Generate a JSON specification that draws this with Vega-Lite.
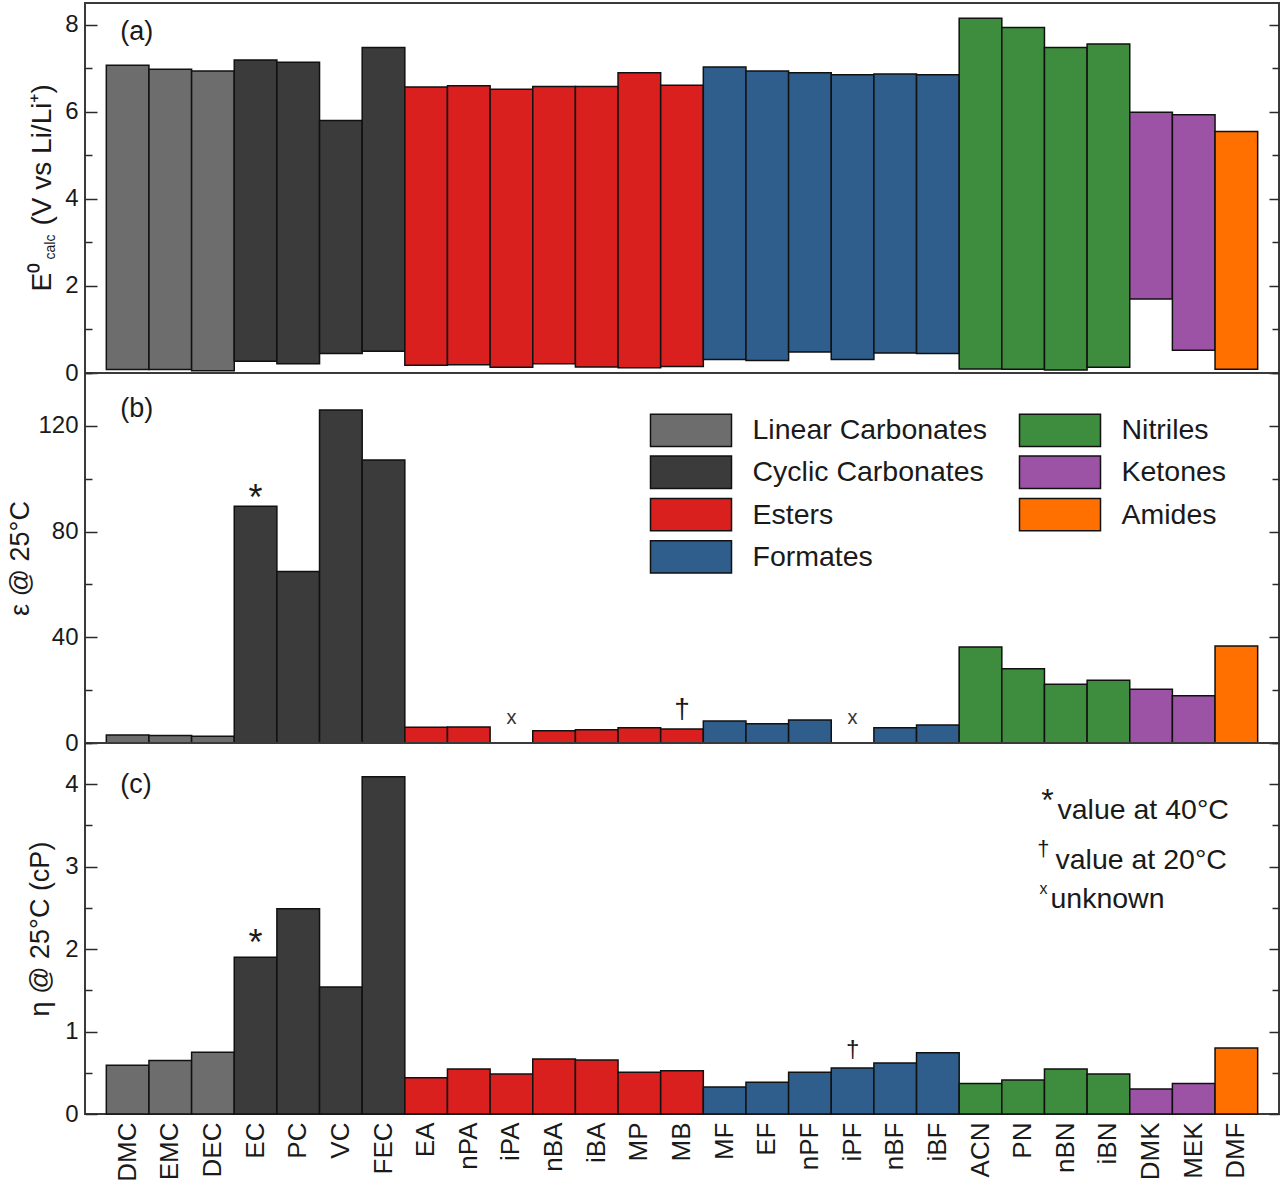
{
  "$schema": "https://vega.github.io/schema/vega-lite/v6.json",
  "background": "white",
  "padding": {"left": 5, "top": 2, "right": 0, "bottom": 0},
  "data": {
    "values": [
      {"name": "DMC", "group": "Linear Carbonates", "lo": 0.08, "hi": 7.07, "eps": 3.0, "eta": 0.59, "epsNote": null, "etaNote": null},
      {"name": "EMC", "group": "Linear Carbonates", "lo": 0.08, "hi": 6.98, "eps": 2.8, "eta": 0.65, "epsNote": null, "etaNote": null},
      {"name": "DEC", "group": "Linear Carbonates", "lo": 0.05, "hi": 6.94, "eps": 2.6, "eta": 0.75, "epsNote": null, "etaNote": null},
      {"name": "EC", "group": "Cyclic Carbonates", "lo": 0.27, "hi": 7.19, "eps": 89.6, "eta": 1.90, "epsNote": "*", "etaNote": "*"},
      {"name": "PC", "group": "Cyclic Carbonates", "lo": 0.21, "hi": 7.14, "eps": 64.9, "eta": 2.49, "epsNote": null, "etaNote": null},
      {"name": "VC", "group": "Cyclic Carbonates", "lo": 0.45, "hi": 5.80, "eps": 126.0, "eta": 1.54, "epsNote": null, "etaNote": null},
      {"name": "FEC", "group": "Cyclic Carbonates", "lo": 0.50, "hi": 7.48, "eps": 107.1, "eta": 4.09, "epsNote": null, "etaNote": null},
      {"name": "EA", "group": "Esters", "lo": 0.18, "hi": 6.57, "eps": 6.0, "eta": 0.44, "epsNote": null, "etaNote": null},
      {"name": "nPA", "group": "Esters", "lo": 0.19, "hi": 6.60, "eps": 6.1, "eta": 0.545, "epsNote": null, "etaNote": null},
      {"name": "iPA", "group": "Esters", "lo": 0.13, "hi": 6.52, "eps": null, "eta": 0.485, "epsNote": null, "etaNote": null},
      {"name": "nBA", "group": "Esters", "lo": 0.21, "hi": 6.58, "eps": 4.6, "eta": 0.667, "epsNote": null, "etaNote": null},
      {"name": "iBA", "group": "Esters", "lo": 0.14, "hi": 6.58, "eps": 5.0, "eta": 0.654, "epsNote": null, "etaNote": null},
      {"name": "MP", "group": "Esters", "lo": 0.12, "hi": 6.90, "eps": 5.8, "eta": 0.505, "epsNote": null, "etaNote": null},
      {"name": "MB", "group": "Esters", "lo": 0.15, "hi": 6.61, "eps": 5.3, "eta": 0.525, "epsNote": "†", "etaNote": null},
      {"name": "MF", "group": "Formates", "lo": 0.31, "hi": 7.03, "eps": 8.3, "eta": 0.327, "epsNote": null, "etaNote": null},
      {"name": "EF", "group": "Formates", "lo": 0.29, "hi": 6.94, "eps": 7.3, "eta": 0.384, "epsNote": null, "etaNote": null},
      {"name": "nPF", "group": "Formates", "lo": 0.48, "hi": 6.90, "eps": 8.7, "eta": 0.505, "epsNote": null, "etaNote": null},
      {"name": "iPF", "group": "Formates", "lo": 0.31, "hi": 6.85, "eps": null, "eta": 0.557, "epsNote": null, "etaNote": "†"},
      {"name": "nBF", "group": "Formates", "lo": 0.46, "hi": 6.87, "eps": 5.8, "eta": 0.618, "epsNote": null, "etaNote": null},
      {"name": "iBF", "group": "Formates", "lo": 0.45, "hi": 6.85, "eps": 6.8, "eta": 0.743, "epsNote": null, "etaNote": null},
      {"name": "ACN", "group": "Nitriles", "lo": 0.09, "hi": 8.15, "eps": 36.3, "eta": 0.371, "epsNote": null, "etaNote": null},
      {"name": "PN", "group": "Nitriles", "lo": 0.085, "hi": 7.94, "eps": 28.1, "eta": 0.412, "epsNote": null, "etaNote": null},
      {"name": "nBN", "group": "Nitriles", "lo": 0.07, "hi": 7.48, "eps": 22.2, "eta": 0.545, "epsNote": null, "etaNote": null},
      {"name": "iBN", "group": "Nitriles", "lo": 0.13, "hi": 7.56, "eps": 23.7, "eta": 0.485, "epsNote": null, "etaNote": null},
      {"name": "DMK", "group": "Ketones", "lo": 1.70, "hi": 5.99, "eps": 20.3, "eta": 0.303, "epsNote": null, "etaNote": null},
      {"name": "MEK", "group": "Ketones", "lo": 0.52, "hi": 5.93, "eps": 17.9, "eta": 0.371, "epsNote": null, "etaNote": null},
      {"name": "DMF", "group": "Amides", "lo": 0.085, "hi": 5.55, "eps": 36.7, "eta": 0.80, "epsNote": null, "etaNote": null}
    ]
  },
  "config": {
    "font": "Liberation Sans",
    "view": {"stroke": "#3a3a3a", "strokeWidth": 2},
    "axis": {
      "grid": false,
      "domain": false,
      "labelFontSize": 24,
      "labelColor": "#1a1a1a",
      "titleFontSize": 27,
      "titleFontWeight": "normal",
      "titleColor": "#1a1a1a",
      "tickColor": "#2a2a2a",
      "tickWidth": 1.5
    },
    "concat": {"spacing": 0},
    "text": {"color": "#1a1a1a"}
  },
  "bounds": "flush",
  "resolve": {
    "scale": {"x": "independent", "y": "independent", "color": "independent"},
    "legend": {"color": "independent"}
  },
  "vconcat": [
    {
      "width": 1194,
      "height": 370,
      "layer": [
        {
          "mark": {"type": "bar", "stroke": "#111111", "strokeWidth": 1.5},
          "encoding": {
            "x": {
              "field": "name", "type": "nominal",
              "scale": {"domain": ["DMC", "EMC", "DEC", "EC", "PC", "VC", "FEC", "EA", "nPA", "iPA", "nBA", "iBA", "MP", "MB", "MF", "EF", "nPF", "iPF", "nBF", "iBF", "ACN", "PN", "nBN", "iBN", "DMK", "MEK", "DMF"], "paddingInner": 0, "paddingOuter": 0.5},
              "axis": null
            },
            "y": {
              "field": "lo", "type": "quantitative",
              "scale": {"domain": [0, 8.5], "nice": false, "zero": false},
              "axis": {
                "values": [0, 1, 2, 3, 4, 5, 6, 7, 8],
                "labelExpr": "datum.value % 2 === 0 ? datum.label : ''",
                "tickSize": {"condition": {"test": "datum.value % 2 === 0", "value": -12}, "value": -7},
                "labelPadding": 19,
                "title": "E⁰",
                "titleFontSize": 28,
                "titleAngle": 270,
                "titleAlign": "left",
                "titleBaseline": "alphabetic",
                "titleX": -35,
                "titleY": 288
              }
            },
            "y2": {"field": "hi"},
            "color": {
              "field": "group", "type": "nominal",
              "scale": {
                "domain": ["Linear Carbonates", "Cyclic Carbonates", "Esters", "Formates", "Nitriles", "Ketones", "Amides"],
                "range": ["#6d6d6d", "#3b3b3b", "#da1f1f", "#2f5e8c", "#3e8c3d", "#9c52a5", "#ff7000"]
              },
              "legend": null
            }
          }
        },
        {
          "mark": {"type": "rule", "opacity": 0},
          "encoding": {
            "y": {
              "field": "hi", "type": "quantitative",
              "axis": {
                "orient": "right",
                "values": [0, 1, 2, 3, 4, 5, 6, 7, 8],
                "labels": false,
                "title": null,
                "tickSize": {"condition": {"test": "datum.value % 2 === 0", "value": -10}, "value": -7}
              }
            }
          }
        },
        {
          "mark": {"type": "rule", "opacity": 0},
          "encoding": {
            "y": {
              "field": "hi", "type": "quantitative",
              "axis": {
                "orient": "left",
                "labels": false,
                "ticks": false,
                "title": "calc",
                "titleFontSize": 14,
                "titleAngle": 270,
                "titleAlign": "left",
                "titleBaseline": "alphabetic",
                "titleX": -31,
                "titleY": 256
              }
            }
          }
        },
        {
          "mark": {"type": "rule", "opacity": 0},
          "encoding": {
            "y": {
              "field": "hi", "type": "quantitative",
              "axis": {
                "orient": "left",
                "labels": false,
                "ticks": false,
                "title": "(V vs Li/Li⁺)",
                "titleFontSize": 28,
                "titleAngle": 270,
                "titleAlign": "left",
                "titleBaseline": "alphabetic",
                "titleX": -35,
                "titleY": 222
              }
            }
          }
        },
        {
          "data": {"values": [{"label": "(a)"}]},
          "mark": {"type": "text", "align": "left", "baseline": "top", "fontSize": 27, "dx": 14, "dy": 16},
          "encoding": {
            "x": {"datum": "DMC", "bandPosition": 0},
            "y": {"datum": 8.5, "axis": null},
            "text": {"field": "label"}
          }
        }
      ],
      "resolve": {"axis": {"y": "independent"}}
    },
    {
      "width": 1194,
      "height": 370,
      "layer": [
        {
          "mark": {"type": "bar", "stroke": "#111111", "strokeWidth": 1.5},
          "encoding": {
            "x": {
              "field": "name", "type": "nominal",
              "scale": {"domain": ["DMC", "EMC", "DEC", "EC", "PC", "VC", "FEC", "EA", "nPA", "iPA", "nBA", "iBA", "MP", "MB", "MF", "EF", "nPF", "iPF", "nBF", "iBF", "ACN", "PN", "nBN", "iBN", "DMK", "MEK", "DMF"], "paddingInner": 0, "paddingOuter": 0.5},
              "axis": null
            },
            "y": {
              "field": "eps", "type": "quantitative",
              "scale": {"domain": [0, 140], "nice": false},
              "axis": {
                "values": [0, 20, 40, 60, 80, 100, 120, 140],
                "labelExpr": "datum.value % 40 === 0 ? datum.label : ''",
                "tickSize": {"condition": {"test": "datum.value % 40 === 0", "value": -12}, "value": -7},
                "labelPadding": 19,
                "title": "ε @ 25°C",
                "titlePadding": 3
              }
            },
            "color": {
              "field": "group", "type": "nominal",
              "scale": {
                "domain": ["Linear Carbonates", "Cyclic Carbonates", "Esters", "Formates", "Nitriles", "Ketones", "Amides"],
                "range": ["#6d6d6d", "#3b3b3b", "#da1f1f", "#2f5e8c", "#3e8c3d", "#9c52a5", "#ff7000"]
              },
              "legend": {
                "orient": "none",
                "legendX": 589,
                "legendY": 40,
                "title": null,
                "columns": 2,
                "columnPadding": 29,
                "rowPadding": 2.3,
                "symbolType": "M-2.5,-1H2.5V1H-2.5Z",
                "symbolSize": 1050,
                "symbolStrokeColor": "#111111",
                "symbolStrokeWidth": 1.5,
                "symbolOpacity": 1,
                "labelFontSize": 28.5,
                "labelColor": "#1a1a1a",
                "labelOffset": 44.5,
                "labelLimit": 400
              }
            }
          }
        },
        {
          "mark": {"type": "rule", "opacity": 0},
          "encoding": {
            "y": {
              "field": "eps", "type": "quantitative",
              "axis": {
                "orient": "right",
                "values": [0, 20, 40, 60, 80, 100, 120, 140],
                "labels": false,
                "title": null,
                "tickSize": {"condition": {"test": "datum.value % 40 === 0", "value": -10}, "value": -7}
              }
            }
          }
        },
        {
          "transform": [{"filter": "datum.epsNote === '*'"}],
          "mark": {"type": "text", "align": "center", "baseline": "alphabetic", "fontSize": 36, "dy": 4},
          "encoding": {
            "x": {"field": "name", "type": "nominal"},
            "y": {"field": "eps", "type": "quantitative", "axis": null},
            "text": {"field": "epsNote"}
          }
        },
        {
          "transform": [{"filter": "datum.epsNote === '†'"}],
          "mark": {"type": "text", "align": "center", "baseline": "alphabetic", "fontSize": 28, "dy": -11},
          "encoding": {
            "x": {"field": "name", "type": "nominal"},
            "y": {"field": "eps", "type": "quantitative", "axis": null},
            "text": {"field": "epsNote"}
          }
        },
        {
          "transform": [{"filter": "datum.eps === null"}],
          "mark": {"type": "text", "align": "center", "baseline": "alphabetic", "fontSize": 20, "dy": -19, "color": "#333333"},
          "encoding": {
            "x": {"field": "name", "type": "nominal"},
            "y": {"datum": 0, "axis": null},
            "text": {"value": "x"}
          }
        },
        {
          "data": {"values": [{"label": "(b)"}]},
          "mark": {"type": "text", "align": "left", "baseline": "top", "fontSize": 27, "dx": 14, "dy": 23},
          "encoding": {
            "x": {"datum": "DMC", "bandPosition": 0},
            "y": {"datum": 140, "axis": null},
            "text": {"field": "label"}
          }
        }
      ],
      "resolve": {"axis": {"y": "independent"}}
    },
    {
      "width": 1194,
      "height": 371,
      "layer": [
        {
          "mark": {"type": "bar", "stroke": "#111111", "strokeWidth": 1.5},
          "encoding": {
            "x": {
              "field": "name", "type": "nominal",
              "scale": {"domain": ["DMC", "EMC", "DEC", "EC", "PC", "VC", "FEC", "EA", "nPA", "iPA", "nBA", "iBA", "MP", "MB", "MF", "EF", "nPF", "iPF", "nBF", "iBF", "ACN", "PN", "nBN", "iBN", "DMK", "MEK", "DMF"], "paddingInner": 0, "paddingOuter": 0.5},
              "axis": {"title": null, "ticks": false, "labelAngle": -90, "labelFontSize": 26, "labelPadding": 8, "labelColor": "#1a1a1a"}
            },
            "y": {
              "field": "eta", "type": "quantitative",
              "scale": {"domain": [0, 4.5], "nice": false},
              "axis": {
                "values": [0, 0.5, 1, 1.5, 2, 2.5, 3, 3.5, 4, 4.5],
                "labelExpr": "datum.value % 1 === 0 ? format(datum.value, 'd') : ''",
                "tickSize": {"condition": {"test": "datum.value % 1 === 0", "value": -12}, "value": -7},
                "labelPadding": 19,
                "title": "η @ 25°C (cP)",
                "titlePadding": 10
              }
            },
            "color": {
              "field": "group", "type": "nominal",
              "scale": {
                "domain": ["Linear Carbonates", "Cyclic Carbonates", "Esters", "Formates", "Nitriles", "Ketones", "Amides"],
                "range": ["#6d6d6d", "#3b3b3b", "#da1f1f", "#2f5e8c", "#3e8c3d", "#9c52a5", "#ff7000"]
              },
              "legend": null
            }
          }
        },
        {
          "mark": {"type": "rule", "opacity": 0},
          "encoding": {
            "y": {
              "field": "eta", "type": "quantitative",
              "axis": {
                "orient": "right",
                "values": [0, 0.5, 1, 1.5, 2, 2.5, 3, 3.5, 4, 4.5],
                "labels": false,
                "title": null,
                "tickSize": {"condition": {"test": "datum.value % 1 === 0", "value": -10}, "value": -7}
              }
            }
          }
        },
        {
          "transform": [{"filter": "datum.etaNote === '*'"}],
          "mark": {"type": "text", "align": "center", "baseline": "alphabetic", "fontSize": 36, "dy": -2},
          "encoding": {
            "x": {"field": "name", "type": "nominal"},
            "y": {"field": "eta", "type": "quantitative", "axis": null},
            "text": {"field": "etaNote"}
          }
        },
        {
          "transform": [{"filter": "datum.etaNote === '†'"}],
          "mark": {"type": "text", "align": "center", "baseline": "alphabetic", "fontSize": 24, "dy": -11},
          "encoding": {
            "x": {"field": "name", "type": "nominal"},
            "y": {"field": "eta", "type": "quantitative", "axis": null},
            "text": {"field": "etaNote"}
          }
        },
        {
          "data": {"values": [{"sym": "*"}]},
          "mark": {"type": "text", "align": "center", "baseline": "alphabetic", "fontSize": 32, "dx": 3, "dy": -8},
          "encoding": {"x": {"datum": "nBN", "bandPosition": 0}, "y": {"datum": 3.58, "axis": null}, "text": {"field": "sym"}}
        },
        {
          "data": {"values": [{"note": "value at 40°C"}]},
          "mark": {"type": "text", "align": "left", "baseline": "alphabetic", "fontSize": 28.5, "dx": 13},
          "encoding": {"x": {"datum": "nBN", "bandPosition": 0}, "y": {"datum": 3.58, "axis": null}, "text": {"field": "note"}}
        },
        {
          "data": {"values": [{"sym": "†"}]},
          "mark": {"type": "text", "align": "center", "baseline": "alphabetic", "fontSize": 22, "dx": -1, "dy": -13},
          "encoding": {"x": {"datum": "nBN", "bandPosition": 0}, "y": {"datum": 2.97, "axis": null}, "text": {"field": "sym"}}
        },
        {
          "data": {"values": [{"note": "value at 20°C"}]},
          "mark": {"type": "text", "align": "left", "baseline": "alphabetic", "fontSize": 28.5, "dx": 11},
          "encoding": {"x": {"datum": "nBN", "bandPosition": 0}, "y": {"datum": 2.97, "axis": null}, "text": {"field": "note"}}
        },
        {
          "data": {"values": [{"sym": "x"}]},
          "mark": {"type": "text", "align": "center", "baseline": "alphabetic", "fontSize": 16, "dx": -1, "dy": -14},
          "encoding": {"x": {"datum": "nBN", "bandPosition": 0}, "y": {"datum": 2.50, "axis": null}, "text": {"field": "sym"}}
        },
        {
          "data": {"values": [{"note": "unknown"}]},
          "mark": {"type": "text", "align": "left", "baseline": "alphabetic", "fontSize": 28.5, "dx": 6},
          "encoding": {"x": {"datum": "nBN", "bandPosition": 0}, "y": {"datum": 2.50, "axis": null}, "text": {"field": "note"}}
        },
        {
          "data": {"values": [{"label": "(c)"}]},
          "mark": {"type": "text", "align": "left", "baseline": "top", "fontSize": 27, "dx": 14, "dy": 29},
          "encoding": {
            "x": {"datum": "DMC", "bandPosition": 0},
            "y": {"datum": 4.5, "axis": null},
            "text": {"field": "label"}
          }
        }
      ],
      "resolve": {"axis": {"y": "independent"}}
    }
  ]
}
